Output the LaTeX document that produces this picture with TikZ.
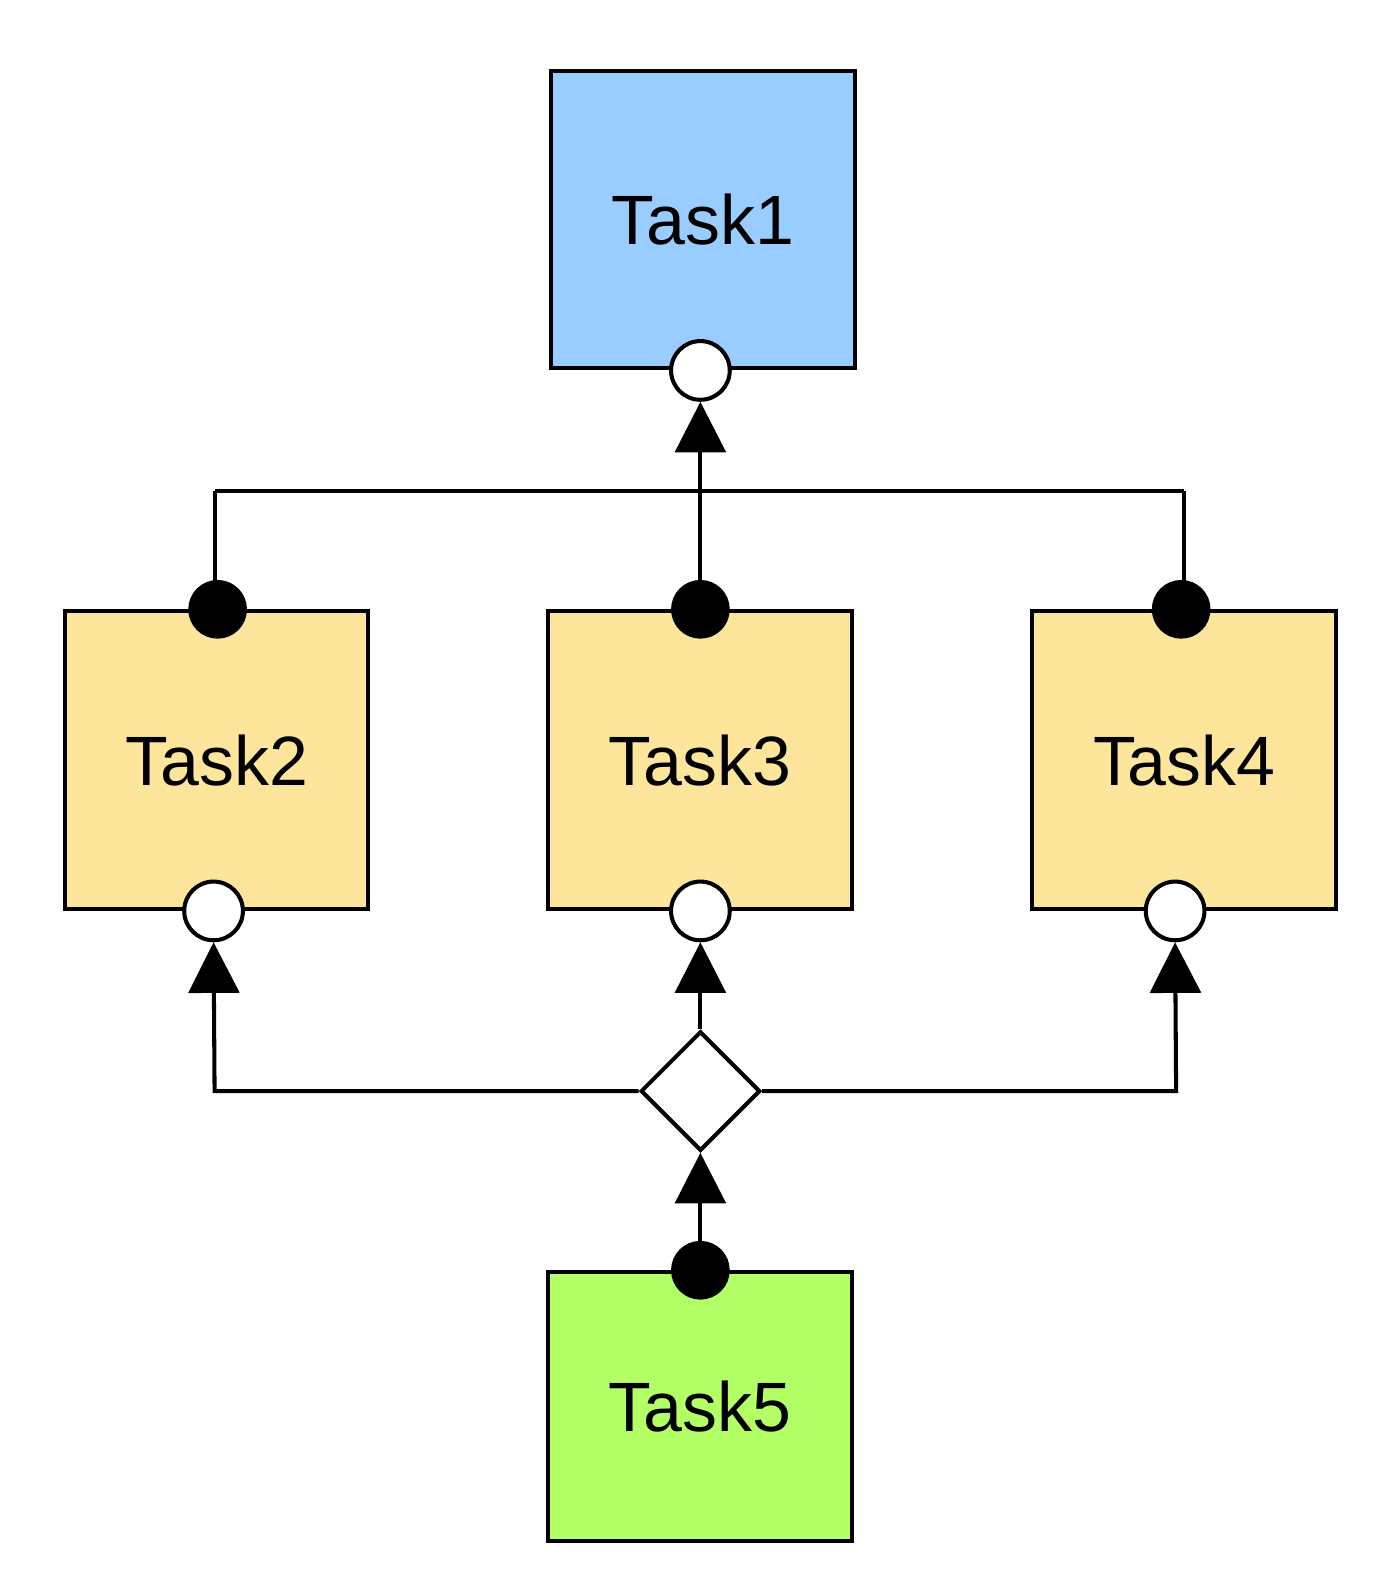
\documentclass[tikz,border=0pt]{standalone}
\usepackage{fontspec}
\setmainfont{Liberation Sans}
\usetikzlibrary{arrows.meta,shapes.geometric}
\definecolor{blueT}{HTML}{99CCFF}
\definecolor{yellowT}{HTML}{FDE59B}
\definecolor{greenT}{HTML}{B3FF66}
\begin{document}
\begin{tikzpicture}[x=1pt,y=-1pt,line width=4pt,
  task/.style={draw,minimum width=300pt,minimum height=294pt,font=\fontsize{69}{80}\selectfont,inner sep=0pt},
  odot/.style={circle,draw,fill=white,minimum size=58pt,inner sep=0pt},
  fdot/.style={circle,draw,fill=black,minimum size=54pt,inner sep=0pt},
  arr/.style={-{Triangle[width=50pt,length=50pt]}}]
\useasboundingbox (0,0) rectangle (1381,1565);
\node[task,fill=blueT] (t1) at (694.5,217) {Task1};
\node[task,fill=yellowT] (t2) at (214,751) {Task2};
\node[task,fill=yellowT] (t3) at (691.5,751) {Task3};
\node[task,fill=yellowT] (t4) at (1170,751) {Task4};
\node[task,fill=greenT,minimum height=266pt] (t5) at (691.5,1389.5) {Task5};
\node[diamond,draw,fill=white,minimum width=118pt,minimum height=118pt,inner sep=0pt] (d) at (692,1078) {};
\coordinate (hl) at (212,485);
\coordinate (hr) at (1170,485);
\node[odot] (c1) at (692,366) {};
\node[odot] (c2) at (211,900) {};
\node[odot] (c3) at (692,900) {};
\node[odot] (c4) at (1161,900) {};
\coordinate (dl) at (212,1078);
\coordinate (dr) at (1162,1078);
\draw (hl) -- (hr);
\draw (hl) -- (212,602);
\draw (hr) -- (1170,602);
\draw[arr] (692,602) -- (c1.south);
\draw[arr] (d.north) -- (c3.south);
\draw[arr] (d.west) -- (dl) -- (c2.south);
\draw[arr] (d.east) -- (dr) -- (c4.south);
\draw[arr] (692,1255) -- (d.south);
\node[fdot] (f2) at (215,602) {};
\node[fdot] (f3) at (692,602) {};
\node[fdot] (f4) at (1167,602) {};
\node[fdot] (f5) at (692,1255) {};
\end{tikzpicture}
\end{document}
